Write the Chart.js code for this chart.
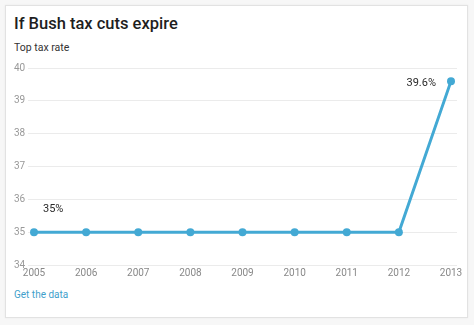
<!DOCTYPE html>
<html>
<head>
<meta charset="utf-8">
<script src="https://cdn.jsdelivr.net/npm/chart.js@4"></script>
<style>
  html, body { margin: 0; padding: 0; background: #f7f7f7; width: 474px; height: 325px; overflow: hidden; font-family: Roboto, sans-serif; }
  .card { position: absolute; left: 5px; top: 5px; width: 461px; height: 311px; background: #fff; border: 1px solid #e2e2e2; box-shadow: 0 0 2px rgba(0,0,0,0.06); }
  h1 { position: absolute; left: 14px; top: 14px; margin: 0; font-size: 16.5px; font-weight: 500; color: #1e1e1e; }
  .sub { position: absolute; left: 14px; top: 41px; font-size: 10.5px; color: #333; }
  .link { position: absolute; left: 14px; top: 289px; font-size: 10px; color: #3f9fcb; }
  canvas { position: absolute; left: 0; top: 0; }
</style>
</head>
<body>
<div class="card"></div>
<h1>If Bush tax cuts expire</h1>
<div class="sub">Top tax rate</div>
<div class="link">Get the data</div>
<canvas id="chart" width="474" height="325"></canvas>
<script>
// years on the x axis and the top marginal rate for each
const years = ['2005', '2006', '2007', '2008', '2009', '2010', '2011', '2012', '2013'];
const topRate = [35, 35, 35, 35, 35, 35, 35, 35, 39.6];
// which points carry a value label
const labelled = [0, 8];
const yMin = 34;
const yMax = 40;

const blue = '#43a9d4';

// writes "35%" / "39.6%" next to the first and last point
const pointLabels = {
  id: 'pointLabels',
  afterDatasetsDraw(chart) {
    const ctx = chart.ctx;
    const meta = chart.getDatasetMeta(0);
    ctx.save();
    ctx.font = '11px Roboto, sans-serif';
    ctx.fillStyle = '#2a2a2a';
    ctx.textBaseline = 'middle';
    labelled.forEach(function (i) {
      const pt = meta.data[i];
      const text = topRate[i] + '%';
      if (i === 0) {
        ctx.textAlign = 'left';
        ctx.fillText(text, pt.x + 9, pt.y - 23);
      } else {
        ctx.textAlign = 'right';
        ctx.fillText(text, pt.x - 15, pt.y + 2);
      }
    });
    ctx.restore();
  }
};

const ctx = document.getElementById('chart').getContext('2d');
new Chart(ctx, {
  type: 'line',
  data: {
    labels: years,
    datasets: [{
      data: topRate,
      borderColor: blue,
      backgroundColor: blue,
      borderWidth: 3,
      pointRadius: 4,
      pointHoverRadius: 4,
      pointBackgroundColor: blue,
      pointBorderWidth: 0,
      tension: 0,
      fill: false
    }]
  },
  plugins: [pointLabels],
  options: {
    responsive: false,
    animation: false,
    layout: { padding: { left: 14, right: 17, top: 68, bottom: 40 } },
    plugins: { legend: { display: false }, tooltip: { enabled: false } },
    scales: {
      x: {
        grid: { display: false, drawTicks: false },
        border: { display: false },
        ticks: { color: '#888', font: { size: 10, family: 'Roboto' }, padding: 2, maxRotation: 0, autoSkip: false },
        afterFit(axis) { axis.height = 20; }
      },
      y: {
        min: yMin,
        max: yMax,
        grid: { color: '#ebebeb', lineWidth: 1, drawTicks: true, tickLength: 6, tickColor: '#ebebeb' },
        border: { display: false },
        ticks: { stepSize: 1, color: '#999', font: { size: 10, family: 'Roboto' }, padding: 2, crossAlign: 'far' },
        afterFit(axis) { axis.width = 20; }
      },
      yRight: {
        position: 'right',
        min: yMin,
        max: yMax,
        grid: { drawOnChartArea: false, drawTicks: true, tickLength: 6, tickColor: '#ebebeb', color: '#ebebeb' },
        border: { display: false },
        ticks: { stepSize: 1, display: false },
        afterFit(axis) { axis.width = 6; }
      }
    }
  }
});
</script>
</body>
</html>
